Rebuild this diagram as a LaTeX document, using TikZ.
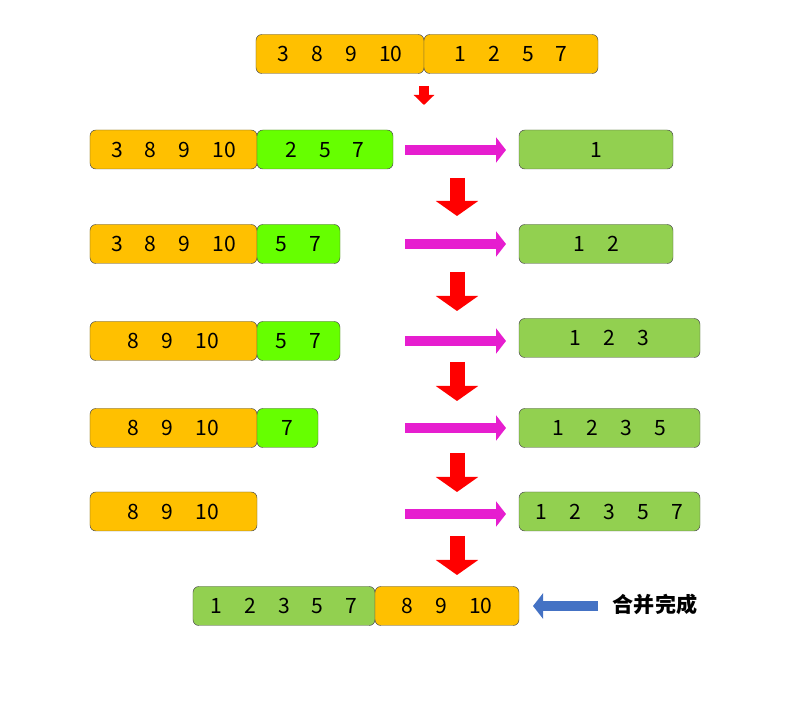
\documentclass[tikz,border=0pt]{standalone}
\usepackage{fontspec}
\setmainfont{Noto Sans CJK SC}
\usetikzlibrary{arrows.meta}
\definecolor{orng}{HTML}{FFC000}
\definecolor{lime}{HTML}{66FF00}
\definecolor{grn}{HTML}{92D050}
\definecolor{mag}{HTML}{E61ECF}
\definecolor{blu}{HTML}{4472C4}
\tikzset{
  cell/.style={draw=black!70, rounded corners=5pt, inner sep=0pt, minimum height=1.17cm, font=\fontsize{18}{20}\selectfont},
  ocell/.style={cell, fill=orng},
  lcell/.style={cell, fill=lime},
  gcell/.style={cell, fill=grn},
  down/.style={draw=red, line width=0.45cm, -{Triangle[length=0.45cm,width=1.25cm]}},
  push/.style={draw=mag, line width=0.28cm, -{Triangle[length=0.3cm,width=0.75cm]}},
  pull/.style={draw=blu, line width=0.28cm, -{Triangle[length=0.3cm,width=0.75cm]}},
}
\newcommand{\gap}{\hspace{1.05em}}
\begin{document}
\begin{tikzpicture}[x=0.03cm,y=-0.03cm]
\useasboundingbox (0,0) rectangle (802,713);
% top
\node[ocell, minimum width=5.04cm] (a0) at (340,54) {3\gap 8\gap 9\gap 10};
\node[ocell, minimum width=5.22cm] (b0) at (511,54) {1\gap 2\gap 5\gap 7};
\coordinate (d0s) at (424,86); \coordinate (d0e) at (424,105);
\draw[down, line width=0.3cm, -{Triangle[length=0.3cm,width=0.6cm]}] (d0s) -- (d0e);
% row 1
\node[ocell, minimum width=5.01cm] (a1) at (173.5,149.5) {3\gap 8\gap 9\gap 10};
\node[lcell, minimum width=4.08cm] (b1) at (325,149.5) {2\gap 5\gap 7};
\node[gcell, minimum width=4.62cm] (r1) at (596,149.5) {1};
\coordinate (p1s) at (405,150); \coordinate (p1e) at (506,150);
\coordinate (d1s) at (457,178); \coordinate (d1e) at (457,216);
% row 2
\node[ocell, minimum width=5.01cm] (a2) at (173.5,244) {3\gap 8\gap 9\gap 10};
\node[lcell, minimum width=2.49cm] (b2) at (298.5,244) {5\gap 7};
\node[gcell, minimum width=4.62cm] (r2) at (596,244) {1\gap 2};
\coordinate (p2s) at (405,244); \coordinate (p2e) at (506,244);
\coordinate (d2s) at (457,272); \coordinate (d2e) at (457,311);
% row 3
\node[ocell, minimum width=5.01cm] (a3) at (173.5,341) {8\gap 9\gap 10};
\node[lcell, minimum width=2.49cm] (b3) at (298.5,341) {5\gap 7};
\node[gcell, minimum width=5.43cm] (r3) at (609.5,338) {1\gap 2\gap 3};
\coordinate (p3s) at (405,341); \coordinate (p3e) at (506,341);
\coordinate (d3s) at (457,362); \coordinate (d3e) at (457,401);
% row 4
\node[ocell, minimum width=5.01cm] (a4) at (173.5,428) {8\gap 9\gap 10};
\node[lcell, minimum width=1.83cm] (b4) at (287.5,428) {7};
\node[gcell, minimum width=5.43cm] (r4) at (609.5,428) {1\gap 2\gap 3\gap 5};
\coordinate (p4s) at (405,428); \coordinate (p4e) at (506,428);
\coordinate (d4s) at (457,453); \coordinate (d4e) at (457,492);
% row 5
\node[ocell, minimum width=5.01cm] (a5) at (173.5,511.5) {8\gap 9\gap 10};
\node[gcell, minimum width=5.43cm] (r5) at (609.5,511.5) {1\gap 2\gap 3\gap 5\gap 7};
\coordinate (p5s) at (405,514); \coordinate (p5e) at (506,514);
\coordinate (d5s) at (457,536); \coordinate (d5e) at (457,575);
% result
\node[gcell, minimum width=5.46cm] (f1) at (284,606) {1\gap 2\gap 3\gap 5\gap 7};
\node[ocell, minimum width=4.32cm] (f2) at (447,606) {8\gap 9\gap 10};
\node[font=\fontsize{18}{20}\selectfont\bfseries] (done) at (655,604) {合并完成};
\coordinate (qs) at (598,606); \coordinate (qe) at (533,606);
\foreach \i in {1,...,5} {
  \draw[push] (p\i s) -- (p\i e);
  \draw[down] (d\i s) -- (d\i e);
}
\draw[pull] (qs) -- (qe);
\end{tikzpicture}
\end{document}
